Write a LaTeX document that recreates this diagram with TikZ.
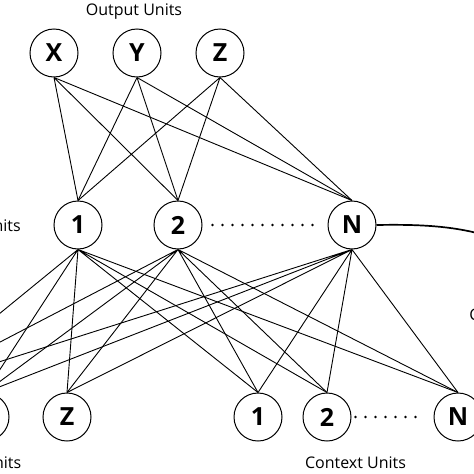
\documentclass[tikz,border=0pt]{standalone}
\usepackage{fontspec}
\setmainfont{Open Sans}

\tikzset{
  unidad/.style={draw, circle, line width=1pt, minimum size=48pt, inner sep=0pt,
    font=\fontsize{25}{25}\selectfont\bfseries},
  capa/.style={font=\fontsize{16}{17}\selectfont}
}

\begin{document}
\begin{tikzpicture}[x=1pt, y=-1pt, line width=0.9pt]
  \useasboundingbox (0,0) rectangle (474,474);
  \clip (0,0) rectangle (474,474);
  % salida
  \node[capa, anchor=base] (tsal) at (134,15.5) {Output Units};
  \node[unidad] (sX) at (54,53) {X};
  \node[unidad] (sY) at (137,53) {Y};
  \node[unidad] (sZ) at (220,53) {Z};
  % oculta
  \node[capa, anchor=base east] (toc) at (24.5,231) {nits};
  \node[unidad] (o1) at (78,225) {1};
  \node[unidad] (o2) at (178,225) {2};
  \node[unidad] (oN) at (352,225) {N};
  % entrada y contexto
  \node[unidad] (eX) at (-97,417) {};
  \node[unidad] (eY) at (-15,417) {};
  \node[unidad] (eZ) at (67,417) {Z};
  \node[unidad] (c1) at (258,417) {1};
  \node[unidad] (c2) at (327,417) {2};
  \node[unidad] (cN) at (458,417) {N};
  \node[capa, anchor=base east] (tent) at (25,468) {nits};
  \node[capa, anchor=base] (tcon) at (355.5,468) {Context Units};
  \node[capa, anchor=base west] (tcop) at (465.5,320) {C};

  \draw (sX.south) -- (o1.north) (sX.south) -- (o2.north) (sX.south) -- (oN.north);
  \draw (sY.south) -- (o1.north) (sY.south) -- (o2.north) (sY.south) -- (oN.north);
  \draw (sZ.south) -- (o1.north) (sZ.south) -- (o2.north) (sZ.south) -- (oN.north);

  \draw (o1.south) -- (eX.north) (o1.south) -- (eY.north) (o1.south) -- (eZ.north)
        (o1.south) -- (c1.north) (o1.south) -- (c2.north) (o1.south) -- (cN.north);
  \draw (o2.south) -- (eX.north) (o2.south) -- (eY.north) (o2.south) -- (eZ.north)
        (o2.south) -- (c1.north) (o2.south) -- (c2.north) (o2.south) -- (cN.north);
  \draw (oN.south) -- (eX.north) (oN.south) -- (eY.north) (oN.south) -- (eZ.north)
        (oN.south) -- (c1.north) (oN.south) -- (c2.north) (oN.south) -- (cN.north);

  \draw[line width=2.8pt, line cap=round, dash pattern=on 0pt off 10pt,
        shorten <=10pt, shorten >=11pt] (o2.east) -- (oN.west);
  \draw[line width=2.8pt, line cap=round, dash pattern=on 0pt off 10pt,
        shorten <=4pt, shorten >=9pt] (c2.east) -- (cN.west);

  \draw[line width=1.7pt] (oN.east) .. controls (430,224) and (470,227) .. (510,244);
\end{tikzpicture}
\end{document}
